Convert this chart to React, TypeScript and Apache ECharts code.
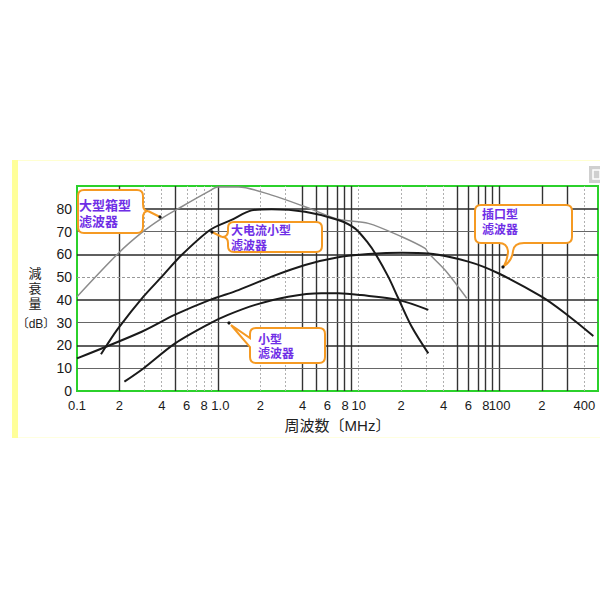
import React, { useEffect, useRef } from 'react';
import * as echarts from 'echarts';

// ---- axis ticks ----
const xTickValues = [0.1, 0.2, 0.4, 0.6, 0.8, 1, 2, 4, 6, 8, 10, 20, 40, 60, 80, 100, 200, 400];
const xTickLabels = ['0.1', '2', '4', '6', '8', '1.0', '2', '4', '6', '8', '10', '2', '4', '6', '8', '100', '2', '400'];
const yTickValues = [0, 10, 20, 30, 40, 50, 60, 70, 80];

// grid lines (MHz / dB)
const xGridDark = [0.2, 0.5, 1, 4, 5, 6, 7, 8, 9, 50, 60, 70, 80, 90, 100, 200, 300];
const xGridLight = [0.3, 0.4, 0.6, 0.7, 0.8, 0.9, 2, 3, 10, 20, 30, 40, 400];
const yGridDark = [20, 40, 60, 80];
const yGridMid = [10, 30, 70];
const yGridLight = [50];

// ---- curves: frequency (MHz) / attenuation (dB) ----
const boxFreq = [0.1, 0.196, 0.288, 0.4, 0.553, 0.855, 1.0, 1.4, 2.41, 4.16, 7.16, 11.7, 20.2, 29.6, 31.2, 41.0, 58.5];
const boxDb = [41.4, 60.4, 69.5, 75.8, 80.9, 87.5, 89.6, 89.6, 86.0, 80.9, 75.4, 73.6, 67.7, 62.6, 60.6, 53.1, 40.7];

const currentFreq = [0.148, 0.163, 0.196, 0.296, 0.4, 0.553, 0.88, 1.25, 1.74, 2.41, 4.16, 7.16, 9.4, 11.7, 13.1, 16.2, 19.1, 23.8, 31.2];
const currentDb = [16.1, 20.2, 27.5, 41.4, 50.2, 59.7, 70.7, 75.1, 79.3, 79.8, 78.7, 75.1, 71.4, 64.8, 60.4, 50.2, 40.7, 28.2, 16.5];

const plugFreq = [0.1, 0.288, 0.497, 0.88, 1.4, 2.41, 4.16, 7.16, 11.7, 20.2, 31.2, 60, 98, 199, 292, 463];
const plugDb = [14.3, 26.0, 33.5, 40.0, 44.3, 50.2, 55.3, 58.7, 60.1, 60.7, 60.4, 56.8, 51.7, 41.4, 34.1, 24.1];

const smallFreq = [0.217, 0.296, 0.497, 0.88, 1.18, 1.84, 3.16, 5.46, 7.16, 10.4, 19.1, 31.2];
const smallDb = [4.1, 9.9, 20.9, 29.7, 33.4, 37.8, 41.4, 42.9, 42.9, 42.1, 40.0, 35.6];

const lg = (v: number) => Math.log10(v);
const pairs = (f: number[], d: number[]) => f.map((v, i) => [lg(v), d[i]]);

// callout outlines
const calloutPaths: Record<string, string> = {
  callBox:
    'M84 190 H137 Q143 190 143 196 V204 Q143 211 148 211 Q143 211 143 218 V227 Q143 233 137 233 H84 Q78 233 78 227 V196 Q78 190 84 190 Z',
  callCurrent:
    'M234 222 H316 Q322 222 322 228 V246 Q322 252 316 252 H234 Q228 252 228 246 V243 Q228 237 222 237 Q228 237 228 231 V228 Q228 222 234 222 Z',
  callSmall:
    'M256 328 H319 Q325 328 325 334 V357 Q325 363 319 363 H256 Q250 363 250 357 V347 L231 325 L250 338 V334 Q250 328 256 328 Z',
  callPlug:
    'M481 205 H566 Q572 205 572 211 V237 Q572 243 566 243 H524 Q514 243 513 251 Q512 261 504 266 Q508 258 508 251 Q507 243 499 243 H481 Q475 243 475 237 V211 Q475 205 481 205 Z',
};
Object.keys(calloutPaths).forEach((k) => {
  echarts.graphic.registerShape(k, echarts.graphic.extendPath(calloutPaths[k], {}));
});

const ORANGE = '#f59a23';
const PURPLE = '#6f2ee6';
const CJK_SC = '"Liberation Sans", "Noto Sans CJK SC", sans-serif';
const CJK_JP = '"Liberation Sans", "Noto Sans CJK JP", sans-serif';

export default function App() {
  const ref = useRef<HTMLDivElement>(null);

  useEffect(() => {
    if (!ref.current) return;
    const chart = echarts.init(ref.current, null, { renderer: 'svg' });

    const labelMap = new Map<string, string>();
    xTickValues.forEach((v, i) => labelMap.set(lg(v).toFixed(4), xTickLabels[i]));

    const darkV = { color: '#333', width: 1.4, type: 'solid' };
    const lightV = { color: '#b0b0b0', width: 1, type: [2, 2] };
    const gridLines: any[] = [
      ...xGridDark.map((v) => ({ xAxis: lg(v), lineStyle: darkV })),
      ...xGridLight.map((v) => ({ xAxis: lg(v), lineStyle: lightV })),
      ...yGridDark.map((v) => ({ yAxis: v, lineStyle: { color: '#2a2a2a', width: 1.5, type: 'solid' } })),
      ...yGridMid.map((v) => ({ yAxis: v, lineStyle: { color: '#666', width: 1.2, type: 'solid' } })),
      ...yGridLight.map((v) => ({ yAxis: v, lineStyle: { color: '#999', width: 1, type: [3, 2] } })),
    ];

    const curve = (name: string, data: number[][], color: string, width: number) => ({
      name,
      type: 'line',
      data,
      smooth: 0.3,
      showSymbol: false,
      symbol: 'none',
      z: 10,
      lineStyle: { color, width },
      silent: true,
    });

    const callText = (x: number, y: number, text: string, size: number) => ({
      type: 'text',
      x,
      y,
      z: 110,
      silent: true,
      style: {
        text,
        fill: PURPLE,
        fontSize: size,
        fontWeight: 'bold',
        fontFamily: CJK_SC,
        align: 'left',
        verticalAlign: 'middle',
      },
    });
    const plainText = (x: number, y: number, text: string, size: number) => ({
      type: 'text',
      x,
      y,
      z: 50,
      silent: true,
      style: {
        text,
        fontSize: size,
        fill: '#222',
        align: 'center',
        verticalAlign: 'middle',
        fontFamily: CJK_JP,
      },
    });
    const callShape = (type: string) => ({
      type,
      x: 0,
      y: 0,
      z: 100,
      silent: true,
      style: { fill: '#fff', stroke: ORANGE, lineWidth: 2 },
    });
    const tail = (x1: number, y1: number, x2: number, y2: number) => ({
      type: 'line',
      z: 100,
      silent: true,
      shape: { x1, y1, x2, y2 },
      style: { stroke: ORANGE, lineWidth: 2 },
    });
    const tip = (cx: number, cy: number) => ({
      type: 'circle',
      z: 101,
      silent: true,
      shape: { cx, cy, r: 1.6 },
      style: { fill: '#111' },
    });

    const option: any = {
      animation: false,
      backgroundColor: '#fff',
      grid: {
        left: 77,
        right: 2,
        top: 186,
        bottom: 209,
        show: true,
        borderColor: '#2bd12b',
        borderWidth: 2,
        backgroundColor: 'transparent',
      },
      xAxis: {
        type: 'value',
        min: lg(0.1),
        max: lg(500),
        name: '周波数〔MHz〕',
        nameLocation: 'middle',
        nameGap: 27,
        nameTextStyle: { fontSize: 15, color: '#222', fontFamily: CJK_JP },
        axisLine: { show: false },
        axisTick: { show: false },
        splitLine: { show: false },
        axisLabel: {
          customValues: xTickValues.map(lg),
          formatter: (v: number) => {
            const t = labelMap.get(Number(v).toFixed(4)) ?? '';
            return t === '1.0' ? '{p|1.0}' : t;
          },
          rich: {
            p: {
              fontSize: 13,
              color: '#1a1a1a',
              fontFamily: '"Liberation Sans", Arial, sans-serif',
              padding: [0, 0, 0, 5],
            },
          },
          fontSize: 13,
          color: '#1a1a1a',
          fontFamily: '"Liberation Sans", Arial, sans-serif',
          margin: 8,
          hideOverlap: false,
        },
      },
      yAxis: {
        type: 'value',
        min: 0,
        max: 90,
        interval: 10,
        axisLine: { show: false },
        axisTick: { show: false },
        splitLine: { show: false },
        axisLabel: {
          formatter: (v: number) => (yTickValues.includes(v) ? String(v) : ''),
          fontSize: 14,
          color: '#1a1a1a',
          fontFamily: '"Liberation Sans", Arial, sans-serif',
          margin: 5,
        },
      },
      series: [
        {
          name: 'grid',
          type: 'line',
          data: [[lg(0.1), 0]],
          showSymbol: false,
          symbol: 'none',
          lineStyle: { width: 0 },
          silent: true,
          markLine: {
            silent: true,
            symbol: ['none', 'none'],
            label: { show: false },
            animation: false,
            data: gridLines,
          },
        },
        curve('大型箱型滤波器', pairs(boxFreq, boxDb), '#8c8c8c', 1.5),
        curve('大电流小型滤波器', pairs(currentFreq, currentDb), '#1a1a1a', 2),
        curve('插口型滤波器', pairs(plugFreq, plugDb), '#1a1a1a', 2),
        curve('小型滤波器', pairs(smallFreq, smallDb), '#1a1a1a', 2),
      ],
      graphic: [
        // left yellow frame
        { type: 'rect', z: 0, silent: true, shape: { x: 12, y: 160, width: 6, height: 278 }, style: { fill: '#ffff99' } },
        { type: 'line', z: 0, silent: true, shape: { x1: 18, y1: 160.5, x2: 600, y2: 160.5 }, style: { stroke: '#ffffd0', lineWidth: 1 } },
        { type: 'line', z: 0, silent: true, shape: { x1: 18, y1: 437.5, x2: 600, y2: 437.5 }, style: { stroke: '#ffffe0', lineWidth: 1 } },
        { type: 'rect', z: 0, silent: true, shape: { x: 589, y: 166, width: 11, height: 17 }, style: { fill: '#cfcfcf' } },
        { type: 'rect', z: 0, silent: true, shape: { x: 593, y: 170, width: 7, height: 9 }, style: { fill: 'none', stroke: '#fff', lineWidth: 1.5 } },
        // y axis title
        plainText(35, 273, '減', 13),
        plainText(35, 288, '衰', 13),
        plainText(35, 303, '量', 13),
        plainText(36, 323.5, '〔dB〕', 12),
        // callouts
        callShape('callBox'),
        tail(148, 211, 160, 217),
        tip(160, 217),
        callText(79, 205, '大型箱型', 13),
        callText(79, 221.5, '滤波器', 13),
        callShape('callCurrent'),
        tail(222, 237, 212, 232),
        tip(212, 232),
        callText(231, 231, '大电流小型', 12),
        callText(231, 245.5, '滤波器', 12),
        callShape('callSmall'),
        tip(229, 323),
        callText(258, 339.5, '小型', 12),
        callText(258, 354, '滤波器', 12),
        callShape('callPlug'),
        tip(503, 267),
        callText(482, 215, '插口型', 12),
        callText(482, 229.5, '滤波器', 12),
      ],
    };

    chart.setOption(option);
    return () => chart.dispose();
  }, []);

  return (
    <div
      ref={ref}
      style={{ position: 'fixed', left: 0, top: 0, width: 600, height: 600, background: '#fff' }}
    />
  );
}
